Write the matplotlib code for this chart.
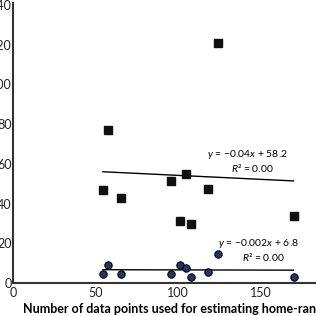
import numpy as np
import matplotlib
matplotlib.use("Agg")
import matplotlib.pyplot as plt

plt.rcParams['font.family'] = ['Lato', 'DejaVu Sans']
plt.rcParams['mathtext.fontset'] = 'custom'
plt.rcParams['mathtext.it'] = 'Lato:italic'
plt.rcParams['mathtext.rm'] = 'Lato'

# ------------------------------------------------------------------
# DATA
# ------------------------------------------------------------------
sq_x = [54.5, 65.5, 57.6, 124, 96, 105, 118, 101, 108, 170]
sq_y = [47, 43, 77, 121, 51.5, 55, 47.5, 31, 29.5, 33.5]

ci_x = [54.5, 57.6, 65.5, 96, 101, 105, 108, 118, 124, 170]
ci_y = [4.5, 9, 4.5, 4.5, 9, 7.5, 3, 5.5, 14.5, 3]

# trend lines (slope, intercept) as printed on the chart
sq_fit = (-0.04, 58.2)
ci_fit = (-0.002, 6.8)

x_ticks = [0, 50, 100, 150]
y_ticks = [0, 20, 40, 60, 80, 100, 120, 140]

# ------------------------------------------------------------------
# PLOT
# ------------------------------------------------------------------
W = H = 316
fig = plt.figure(figsize=(W / 100, H / 100), dpi=100)
# axes deliberately run past the right edge (reference is a crop)
ax = fig.add_axes([13 / W, 33 / H, 330 / W, 280 / H])

ax.scatter(sq_x, sq_y, marker='s', s=34, color='#111111', zorder=3)
ax.scatter(ci_x, ci_y, marker='o', s=28, facecolor='#1F3864',
           edgecolor='black', linewidth=0.8, zorder=3)

for xs, (m, b) in [(sq_x, sq_fit), (ci_x, ci_fit)]:
    xx = np.array([min(xs), max(xs)])
    ax.plot(xx, m * xx + b, color='black', linewidth=1.0, zorder=2)

fs = 7.5
ax.text(142, 64.5, '$y$ = −0.04$x$ + 58.2', ha='center', va='center', fontsize=fs)
ax.text(145, 58, '$R$² = 0.00', ha='center', va='center', fontsize=fs)
ax.text(149, 20, '$y$ = −0.002$x$ + 6.8', ha='center', va='center', fontsize=fs)
ax.text(152, 13, '$R$² = 0.00', ha='center', va='center', fontsize=fs)

ax.set_xlim(0, 200)
ax.set_ylim(0, 141)
ax.set_xticks(x_ticks)
ax.set_yticks(y_ticks)
ax.tick_params(length=0, labelsize=9, colors='#222222')
ax.tick_params(axis='x', pad=3)
ax.tick_params(axis='y', pad=1)

for side in ['top', 'right']:
    ax.spines[side].set_visible(False)
for side in ['left', 'bottom']:
    ax.spines[side].set_linewidth(1.5)
    ax.spines[side].set_color('#333333')

fig.text(23 / W, 1 - 309 / H,
         'Number of data points used for estimating home-range size',
         ha='left', va='center', fontsize=9, fontweight='bold')

plt.savefig('out.png', dpi=100)
